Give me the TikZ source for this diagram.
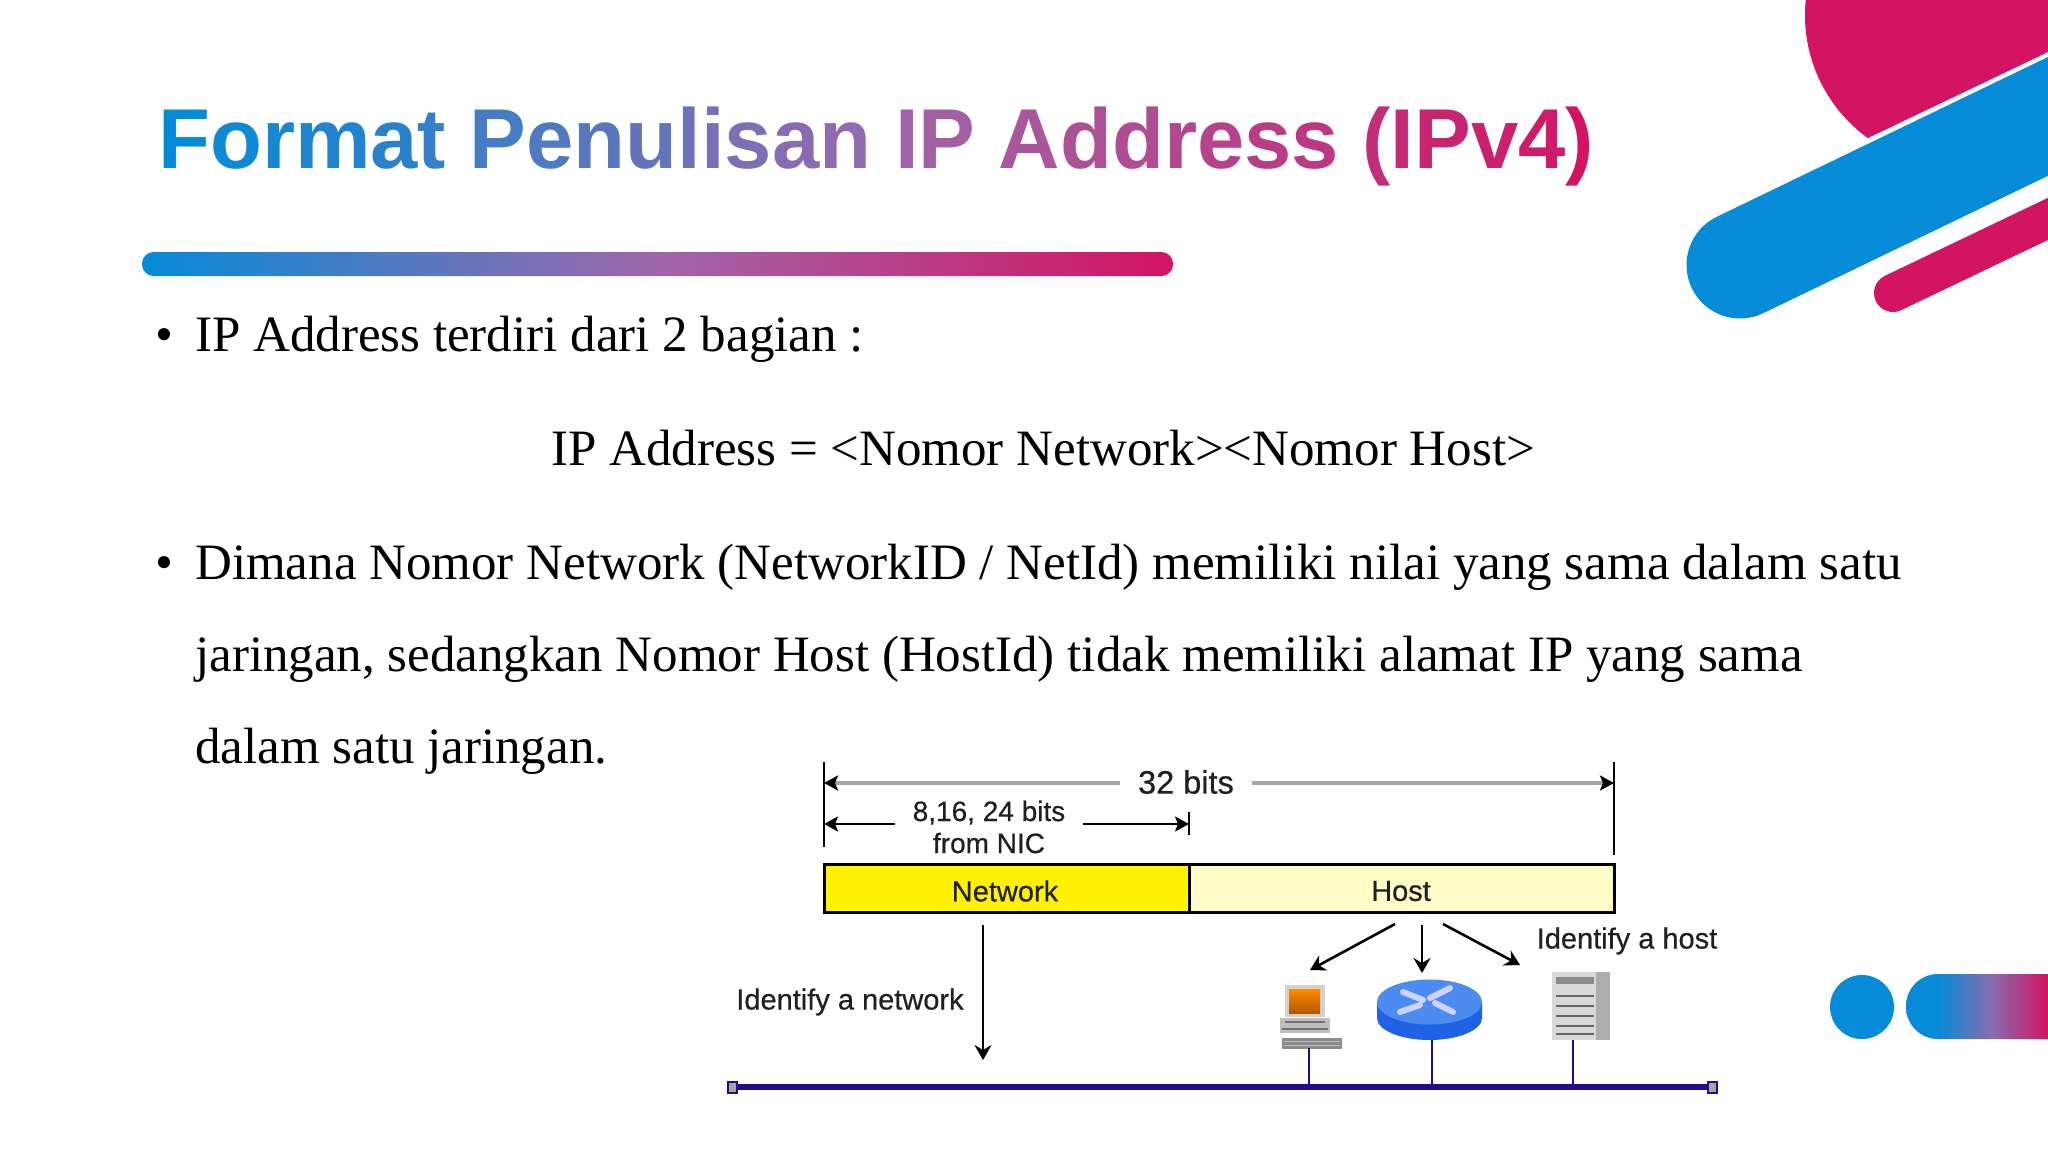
\documentclass[tikz,border=0pt]{standalone}
\usepackage{fontspec}
\setmainfont{Liberation Serif}
\newfontfamily\arialf{Liberation Sans}
\newfontfamily\labf[FakeBold=0.5]{Liberation Sans}
\usetikzlibrary{arrows.meta,shapes.geometric}
\definecolor{tblue}{HTML}{058BD8}
\definecolor{tpink}{HTML}{D31463}
\definecolor{tmid}{HTML}{A066AA}
\definecolor{busc}{HTML}{2A0A8C}
\definecolor{rtr}{HTML}{1F62E6}
\definecolor{rtrtop}{HTML}{4C8BF2}
\definecolor{darktxt}{HTML}{202020}
\pgfdeclarehorizontalshading{pillshade}{100bp}{color(0bp)=(tblue); color(36bp)=(tblue); color(55bp)=(tmid!85!tblue); color(75bp)=(tpink); color(100bp)=(tpink)}
\tikzset{
  body/.style={anchor=base west,inner sep=0pt,font=\fontsize{51}{60}\selectfont,text=black},
  lab/.style={inner sep=0pt,font=\labf\fontsize{29}{32}\selectfont,text=darktxt},
  field/.style={draw=black,line width=3pt,minimum height=48pt,inner sep=0pt},
  tick/.style={line width=1.8pt,draw=black},
  arr/.style={line width=2.6pt,draw=black,-{Stealth[length=15pt,width=17pt,inset=5pt]}},
  dim/.style={line width=2.4pt,draw=black,-{Stealth[length=14pt,width=15pt,inset=3pt]}},
  dimg/.style={line width=3.2pt,draw=black!35,-{Stealth[length=14pt,width=15pt,inset=3pt,color=black,fill=black]}},
  drop/.style={line width=2.4pt,draw=busc},
  icon/.style={inner sep=0pt,minimum width=0pt}
}
\begin{document}
\begin{tikzpicture}[x=1pt,y=-1pt]
\useasboundingbox (0,0) rectangle (2048,1152);
\fill[white] (0,0) rectangle (2048,1152);
% corner decoration
\begin{scope}
\clip (0,0) rectangle (2048,1152);
\begin{scope}
\clip (1700,0) -- (2048,0) -- (2048,52) -- (1868,138) -- (1700,218) -- cycle;
\fill[tpink] (1957,15) circle[radius=152];
\end{scope}
\draw[tblue,line width=107pt,line cap=round] (1740,265) -- (2140,72);
\draw[tpink,line width=38pt,line cap=round] (1893,293) -- (2100,194);
\end{scope}
% title
\node[anchor=base west,inner sep=0pt,font=\arialf\bfseries\fontsize{85}{100}\selectfont] (title) at (158,168) {%
  \foreach \ch [count=\i] in {F,o,r,m,a,t,{\ },P,e,n,u,l,i,s,a,n,{\ },I,P,{\ },A,d,d,r,e,s,s,{\ },{(},I,P,v,4,{)}}{%
    \pgfmathtruncatemacro\pc{100*(\i-1)/33}%
    \ifnum\pc<50
      \pgfmathtruncatemacro\pd{2*\pc}%
      \textcolor{tmid!\pd!tblue}{\ch}%
    \else
      \pgfmathtruncatemacro\pd{2*\pc-100}%
      \textcolor{tpink!\pd!tmid}{\ch}%
    \fi}};
\shade[left color=tblue,right color=tpink,middle color=tmid,rounded corners=11.5pt] (142,252) rectangle (1173,276);
% body text
\node[body] (b1) at (155,351) {•};
\node[body] (l1) at (195,351) {IP Address terdiri dari 2 bagian :};
\node[body] (l2) at (551,465) {IP Address = <Nomor Network><Nomor Host>};
\node[body] (b2) at (155,579) {•};
\node[body] (l3) at (195,579) {Dimana Nomor Network (NetworkID / NetId) memiliki nilai yang sama dalam satu};
\node[body] (l4) at (195,671) {jaringan, sedangkan Nomor Host (HostId) tidak memiliki alamat IP yang sama};
\node[body] (l5) at (195,763) {dalam satu jaringan.};
% bottom-right decoration
\fill[tblue] (1862,1007) circle[radius=32];
\shade[shading=pillshade] (2048,974) [rounded corners=32pt] -- (1906,974) -- (1906,1039) [sharp corners] -- (2048,1039) -- cycle;
% field boxes
\node[field,fill=yellow,minimum width=365pt] (net) at (1006.5,888) {};
\node[field,fill=yellow!22,minimum width=425pt] (host) at (1401.5,888) {};
\node[lab] at (1005,891) (nettxt) {Network};
\node[lab] at (1401,891) (hosttxt) {Host};
% dimension lines
\coordinate (tl1) at (824,762); \coordinate (tl2) at (824,847);
\coordinate (tr1) at (1614,762); \coordinate (tr2) at (1614,855);
\coordinate (tm1) at (1189,812); \coordinate (tm2) at (1189,835);
\draw[tick] (tl1) -- (tl2);
\draw[tick] (tr1) -- (tr2);
\draw[tick] (tm1) -- (tm2);
\coordinate (a32l) at (824,783); \coordinate (a32r) at (1614,783);
\coordinate (a8l) at (824,824); \coordinate (a8r) at (1189,824);
\node[lab,font=\labf\fontsize{32.5}{36}\selectfont,minimum width=131pt] (bits) at (1186,782) {32 bits};
\node[lab,font=\labf\fontsize{28}{32}\selectfont,minimum width=187pt,align=center] (w8) at (989,827) {8,16, 24 bits\\[0pt]from NIC};
\draw[dimg] (bits.west |- a32l) -- (a32l);
\draw[dimg] (bits.east |- a32r) -- (a32r);
\draw[dim] (w8.west |- a8l) -- (a8l);
\draw[dim] (w8.east |- a8r) -- (a8r);
% labels
\node[lab] (idnet) at (850,1002) {Identify a network};
\node[lab] (idhost) at (1627,941) {Identify a host};
% bus
\coordinate (busl) at (731,1087); \coordinate (busr) at (1713,1087);
\draw[busc,line width=6.5pt] (busl) -- (busr);
\node[draw=busc,fill=black!35,line width=2pt,minimum width=9pt,minimum height=11pt,inner sep=0pt] (capl) at (732,1087) {};
\node[draw=busc,fill=black!35,line width=2pt,minimum width=9pt,minimum height=11pt,inner sep=0pt] (capr) at (1712,1087) {};
% computer
\node[icon,fill=black!18,minimum width=40pt,minimum height=32pt] (mon) at (1305,1001) {};
\shade[top color=orange!90!yellow,bottom color=orange!70!black] (1289,989) rectangle (1320,1013);
\fill[black!25] (1280,1018) rectangle (1330,1033);
\draw[black!55,line width=1.5pt] (1285,1022) -- (1325,1022) (1282,1029) -- (1328,1029);
\node[icon,fill=black!45,minimum width=60pt,minimum height=11pt] (kbd) at (1312,1043) {};
\draw[black!25,line width=1pt] (1284,1041) -- (1340,1041) (1284,1045) -- (1340,1045);
% router
\fill[rtr] (1377,1002) -- (1377,1018) arc[start angle=180,end angle=360,x radius=52.5,y radius=-22] -- (1482,1002) -- cycle;
\node[icon,fill=rtrtop,shape=ellipse,minimum width=105pt,minimum height=45pt] (rtrn) at (1429.5,1002) {};
\draw[blue!18!white,line width=6pt,line cap=round]
  (1403,992) -- (1423,1000) (1450,988) -- (1430,998)
  (1400,1012) -- (1420,1005) (1453,1012) -- (1435,1003);
% server
\node[icon,fill=black!32,minimum width=58pt,minimum height=68pt] (srv) at (1581,1006) {};
\fill[black!15] (1552,972) rectangle (1596,1040);
\fill[black!45] (1556,977) rectangle (1594,984);
\foreach \yy in {996,1006,1016,1026,1034}{\draw[black!60,line width=2pt] (1556,\yy) -- (1594,\yy);}
% host drops
\coordinate (d1) at (1309,1087); \coordinate (d2) at (1432,1087); \coordinate (d3) at (1573,1087);
\coordinate (k1) at (1309,1048); \coordinate (r1) at (1432,1040); \coordinate (s1) at (1573,1040);
\draw[drop] (k1) -- (d1);
\draw[drop] (r1) -- (d2);
\draw[drop] (s1) -- (d3);
% arrows
\coordinate (n1) at (983,925); \coordinate (n2) at (983,1060);
\draw[arr] (n1) -- (n2);
\coordinate (h1) at (1395,924); \coordinate (h1e) at (1310,970);
\coordinate (h2) at (1422,925); \coordinate (h2e) at (1422,973);
\coordinate (h3) at (1443,924); \coordinate (h3e) at (1520,965);
\draw[arr] (h1) -- (h1e);
\draw[arr] (h2) -- (h2e);
\draw[arr] (h3) -- (h3e);
\end{tikzpicture}
\end{document}
